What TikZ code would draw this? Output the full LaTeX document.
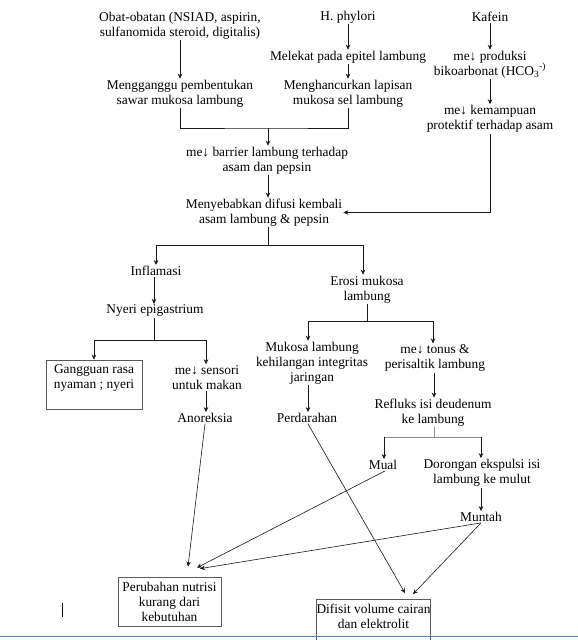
\documentclass[tikz,border=0pt]{standalone}
\usepackage{fontspec}
\setmainfont{Liberation Serif}
\usetikzlibrary{arrows.meta, positioning, calc}
\definecolor{LineDark}{RGB}{25,25,25}
\definecolor{LineGray}{RGB}{140,140,140}
\definecolor{BoxBorder}{RGB}{90,90,90}
\definecolor{RuleBlue}{RGB}{79,129,189}
\newcommand{\diafont}{\fontsize{13.4}{15}\selectfont}
\tikzset{
  every node/.style={font=\diafont},
  arr/.style={-{Stealth[length=5pt,width=4.5pt]}, line width=0.6pt, LineDark},
  arrg/.style={arr, LineGray},
  lin/.style={line width=0.6pt, LineDark},
  ling/.style={lin, LineGray},
  txt/.style={align=center, inner sep=1pt},
  boxed/.style={draw=BoxBorder, line width=0.7pt, align=center, inner sep=0pt,
                minimum width=103pt, minimum height=49pt}
}

\begin{document}
\begin{tikzpicture}[x=1pt,y=-1pt]
\clip (0,0) rectangle (578,640);
\fill[white] (0,0) rectangle (578,640);

% Three causes
\node[txt] (obat) at (180,25.5) {Obat-obatan (NSIAD, aspirin,\\sulfanomida steroid, digitalis)};
\node[txt] (hpylori) at (348,17) {H. phylori};
\node[txt] (kafein) at (490,17) {Kafein};

\node[txt] (melekat) at (348,57) {Melekat pada epitel lambung};
\node[txt] (produksi) at (490,64.5) {me↓ produksi\\bikoarbonat (HCO\textsubscript{3}\textsuperscript{-)}};
\node[txt] (ganggu) at (180,93.5) {Mengganggu pembentukan\\sawar mukosa lambung};
\node[txt] (hancur) at (348,93.5) {Menghancurkan lapisan\\mukosa sel lambung};
\node[txt] (mampu) at (490,119) {me↓ kemampuan\\protektif terhadap asam};

\draw[arr] (obat.south) -- (ganggu.north);
\draw[arr] (hpylori.south) -- (melekat.north);
\draw[arr] (melekat.south) -- (hancur.north);
\draw[arr] (kafein.south) -- (produksi.north);
\draw[arr] (produksi.south) -- (mampu.north);

% Merge into barrier
\coordinate (j1) at (268,128);
\node[txt] (barrier) at (267,160.5) {me↓ barrier lambung terhadap\\asam dan pepsin};
\node[txt] (difusi) at (264,212.5) {Menyebabkan difusi kembali\\asam lambung \& pepsin};

\draw[lin] (ganggu.south) |- (j1) -| (hancur.south);
\draw[arr] (j1) -- (j1 |- barrier.north);
\draw[arr] (barrier.south -| j1) -- (j1 |- difusi.north);
\draw[arr] (mampu.south) |- (difusi.east);

% Split: inflamasi / erosi
\coordinate (j2) at (268,245);
\node[txt] (inflamasi) at (156,271) {Inflamasi};
\node[txt] (erosi) at (367,289.5) {Erosi mukosa\\lambung};

\draw[lin] (difusi.south -| j2) -- (j2);
\draw[arr] (j2) -| (inflamasi.north);
\draw[arr] (j2) -| ([xshift=-4pt]erosi.north);

% Left branch
\node[txt] (nyeri) at (155,311) {Nyeri epigastrium};
\coordinate (j3) at (154,340);
\node[boxed, minimum width=96pt] (gangguan) at (94,384.5) {Gangguan rasa\\nyaman ; nyeri\\~};
\node[txt] (sensori) at (207,377.5) {me↓ sensori\\untuk makan};
\node[txt] (anoreksia) at (205,418) {Anoreksia};

\draw[arr] (inflamasi.south -| j3) -- (j3 |- nyeri.north);
\draw[lin] (nyeri.south -| j3) -- (j3);
\draw[arr] (j3) -| (gangguan.north);
\draw[arr] (j3) -| ([xshift=-1pt]sensori.north);
\draw[arr] ([xshift=-1pt]sensori.south) -- ([xshift=-1pt]sensori.south |- anoreksia.north);

% Right branch
\coordinate (j4) at (367,321);
\node[txt] (mukosa) at (312,363) {Mukosa lambung\\kehilangan integritas\\jaringan};
\node[txt] (tonus) at (435,358) {me↓ tonus \&\\perisaltik lambung};
\node[txt] (perdarahan) at (307,418) {Perdarahan};
\node[txt] (refluks) at (433,412.5) {Refluks isi deudenum\\ke lambung};

\draw[lin] (erosi.south) -- (j4);
\draw[arr] (j4) -| ([xshift=-4pt]mukosa.north);
\draw[arr] (j4) -| ([xshift=-2pt]tonus.north);
\draw[arr] ([xshift=-4pt]mukosa.south) -- ([xshift=-4pt]mukosa.south |- perdarahan.north);
\draw[arr] ([xshift=-1pt]tonus.south) -- ([xshift=-1pt]tonus.south |- refluks.north);

% Reflux split
\coordinate (j5) at (434,437);
\node[txt] (mual) at (383,465) {Mual};
\node[txt] (dorongan) at (482,473) {Dorongan ekspulsi isi\\lambung ke mulut};
\node[txt] (muntah) at (481,517) {Muntah};

\draw[ling] (refluks.south -| j5) -- (j5);
\draw[ling] ([xshift=1pt]mual.north |- j5) -- ([xshift=-1pt]dorongan.north |- j5);
\draw[arr] ([xshift=1pt]mual.north |- j5) -- ([xshift=1pt]mual.north);
\draw[arr] ([xshift=-1pt]dorongan.north |- j5) -- ([xshift=-1pt]dorongan.north);
\draw[arr] ([xshift=-1pt]dorongan.south) -- ([xshift=-1pt]dorongan.south |- muntah.north);

% Outcomes
\node[boxed] (nutrisi) at (169.5,601.5) {Perubahan nutrisi\\kurang dari\\kebutuhan};
\node[boxed] (difisit) at (373.5,624) {Difisit volume cairan\\dan elektrolit\\~};

\draw[arr] (anoreksia.south) -- ([xshift=18.5pt,yshift=10pt]nutrisi.north);
\draw[arr] ([xshift=2pt]mual.south) -- ([xshift=27.5pt,yshift=9pt]nutrisi.north);
\draw[arr] (muntah.south) -- ([xshift=30.5pt,yshift=8pt]nutrisi.north);
\draw[arr] (muntah.south) -- ([xshift=39.5pt,yshift=5pt]difisit.north);
\draw[arr] ([xshift=1pt]perdarahan.south) -- ([xshift=31.5pt,yshift=6pt]difisit.north);

% Cursor mark and page rule
\draw[line width=1pt, black] (62,603) -- (62,617);
\draw[RuleBlue, line width=1.5pt] (0,636.5) -- (578,636.5);

\end{tikzpicture}
\end{document}
